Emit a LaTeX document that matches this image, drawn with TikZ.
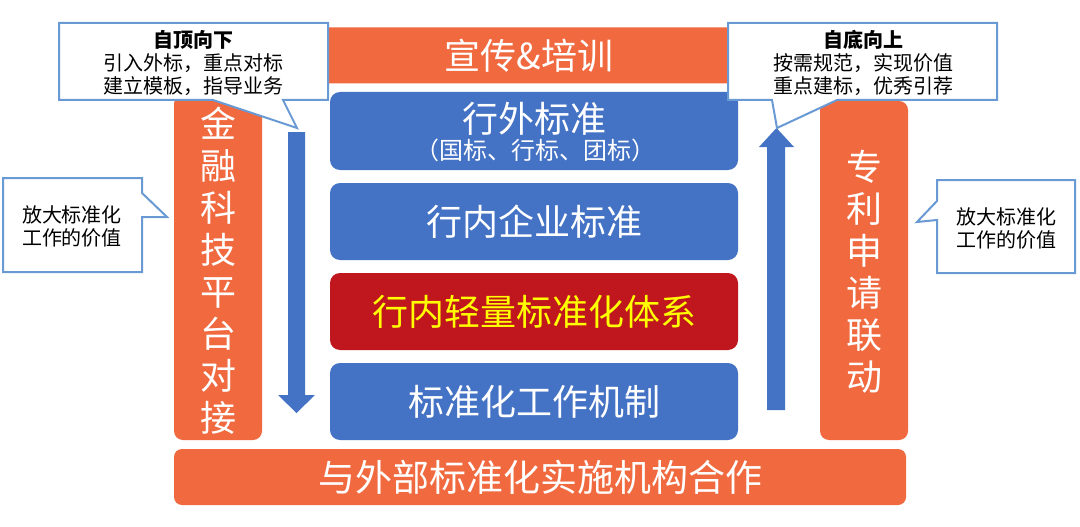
\documentclass[tikz,border=0pt]{standalone}
\usepackage{fontspec}
\setmainfont{Noto Sans CJK SC}
\definecolor{orng}{HTML}{F0693F}
\definecolor{blu}{HTML}{4472C4}
\definecolor{rd}{HTML}{C0161E}
\definecolor{cl}{HTML}{6A9AD4}
\definecolor{ylw}{HTML}{FFFF00}
\tikzset{
  orangebox/.style={fill=orng, draw=none, rounded corners=9pt, inner sep=0pt},
  bluebox/.style={fill=blu, draw=none, rounded corners=10pt, minimum width=408pt, minimum height=77pt, inner sep=0pt},
  redbox/.style={bluebox, fill=rd},
  calloutline/.style={draw=cl, line width=2pt, fill=white, line join=miter},
  arrowfill/.style={fill=blu, draw=none},
  bigtxt/.style={font=\fontsize{36}{42}\selectfont, text=white, align=center, inner sep=0pt},
  smalltxt/.style={font=\fontsize{20}{23}\selectfont, text=black, align=center, inner sep=0pt}
}
\begin{document}
\begin{tikzpicture}[x=1pt,y=-1pt]
\useasboundingbox[fill=white] (0,0) rectangle (1080,527);
% orange frame
\node[orangebox, rounded corners=3pt, minimum width=420pt, minimum height=56pt] (top) at (529,55.5) {};
\node[bigtxt] (toptxt) at (top.center) {宣传\&培训};
\node[orangebox, minimum width=88pt, minimum height=345pt] (left) at (218,267.5) {};
\node[bigtxt] (lefttxt) at (218,271) {金\\融\\科\\技\\平\\台\\对\\接};
\node[orangebox, minimum width=88pt, minimum height=339pt] (right) at (864,270.5) {};
\node[bigtxt] (righttxt) at (864,272) {专\\利\\申\\请\\联\\动};
\node[orangebox, rounded corners=8pt, minimum width=732pt, minimum height=56pt] (bottom) at (540,477) {};
\node[bigtxt, font=\fontsize{37}{42}\selectfont] (bottomtxt) at (bottom.center) {与外部标准化实施机构合作};
% blue stack
\node[bluebox, minimum height=78pt] (b1) at (534,131) {};
\node[bigtxt] (b1a) at (534,119) {行外标准};
\node[bigtxt, font=\fontsize{24}{26}\selectfont] (b1b) at (535,150) {（国标、行标、团标）};
\node[bluebox] (b2) at (534,221.5) {};
\node[bigtxt] (b2t) at (b2.center) {行内企业标准};
\node[redbox] (b3) at (534,311.5) {};
\node[bigtxt, text=ylw] (b3t) at (b3.center) {行内轻量标准化体系};
\node[bluebox] (b4) at (534,401.5) {};
\node[bigtxt] (b4t) at (b4.center) {标准化工作机制};
% arrows
\fill[arrowfill] (288,132) -- (305,132) -- (305,395) -- (315,395) -- (296.5,413) -- (278,395) -- (288,395) -- cycle;
\fill[arrowfill] (767,410) -- (785,410) -- (785,147) -- (794,147) -- (776.5,128) -- (759,147) -- (767,147) -- cycle;
% callouts
\draw[calloutline] (59,23) -- (328,23) -- (328,100) -- (283,100) -- (297,128) -- (213,100) -- (59,100) -- cycle;
\node[smalltxt] (tl) at (193,63) {\textbf{自顶向下}\\引入外标，重点对标\\建立模板，指导业务};
\draw[calloutline] (728,23) -- (997,23) -- (997,100) -- (837,100) -- (777,128) -- (772,100) -- (728,100) -- cycle;
\node[smalltxt] (tr) at (863,63) {\textbf{自底向上}\\按需规范，实现价值\\重点建标，优秀引荐};
\draw[calloutline] (3,178) -- (142,178) -- (142,193) -- (167,217) -- (142,217) -- (142,272) -- (3,272) -- cycle;
\node[smalltxt] (lm) at (72,226) {放大标准化\\工作的价值};
\draw[calloutline] (937,180) -- (1075,180) -- (1075,273) -- (937,273) -- (937,220) -- (917,222) -- (937,201) -- cycle;
\node[smalltxt] (rm) at (1006,228) {放大标准化\\工作的价值};
\end{tikzpicture}
\end{document}
